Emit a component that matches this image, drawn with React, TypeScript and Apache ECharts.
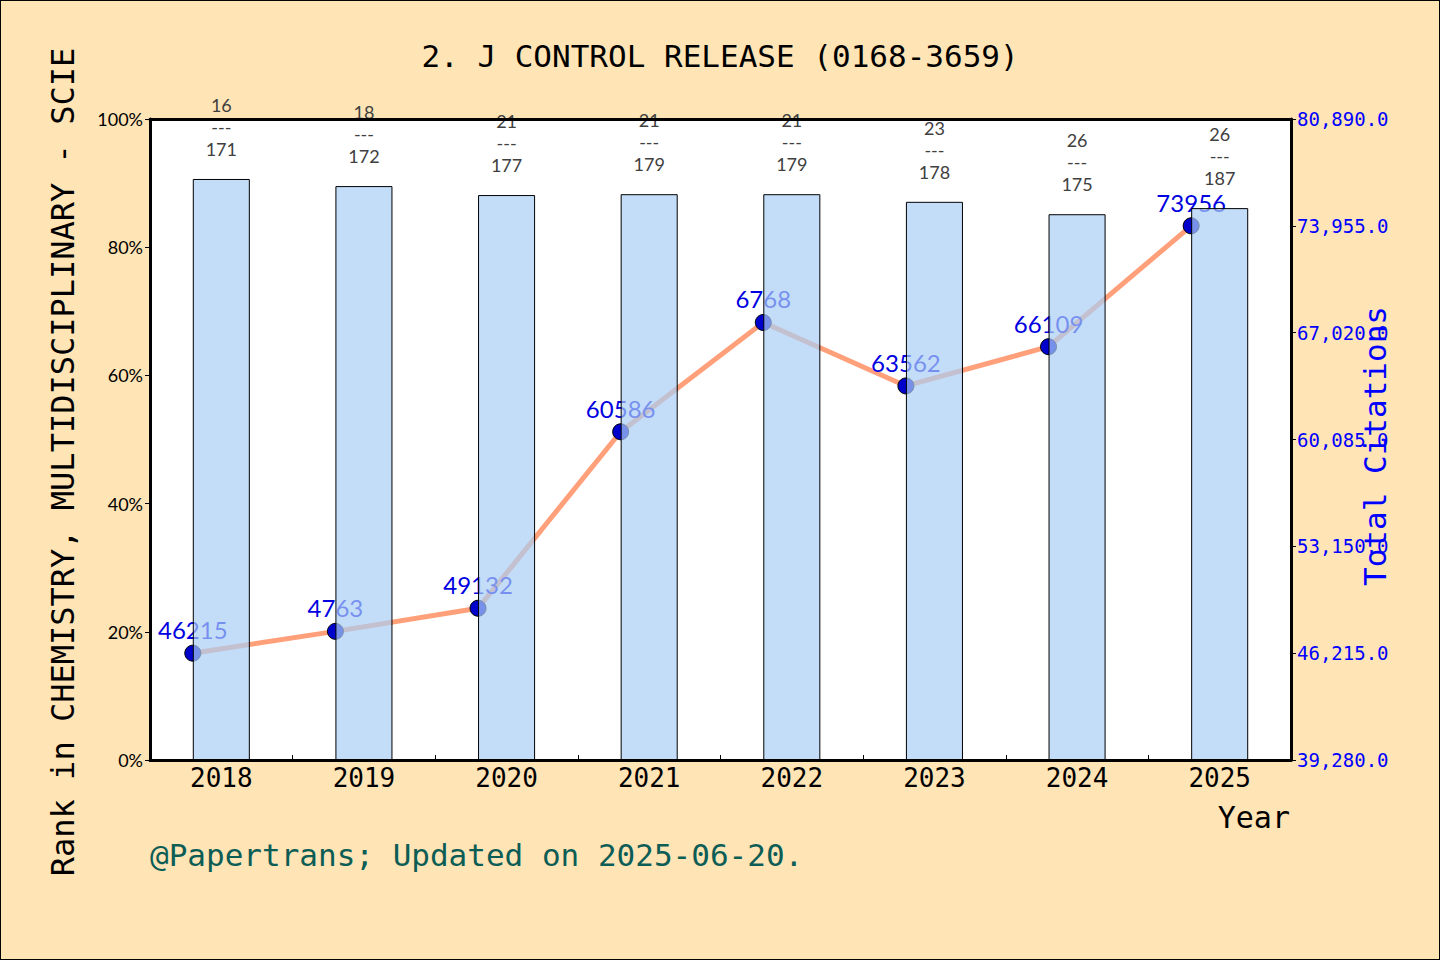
import React, { useEffect, useRef } from "react";
import * as echarts from "echarts";

const years = ["2018", "2019", "2020", "2021", "2022", "2023", "2024", "2025"];
const ranks = [16, 18, 21, 21, 21, 23, 26, 26];
const totals = [171, 172, 177, 179, 179, 178, 175, 187];
const citations = [46215, 47630, 49132, 60586, 67680, 63562, 66109, 73956];
const citationLabels = ["46215", "4763", "49132", "60586", "6768", "63562", "66109", "73956"];

const rankAxisMin = 0;
const rankAxisMax = 100;
const rankAxisInterval = 20;
const citeAxisMin = 39280;
const citeAxisMax = 80890;
const citeAxisInterval = 6935;

const titleText = "2. J CONTROL RELEASE (0168-3659)";
const leftName = "Rank in CHEMISTRY, MULTIDISCIPLINARY - SCIE";
const rightName = "Total Citations";
const xName = "Year";
const footer = "@Papertrans; Updated on 2025-06-20.";

const MONO = "'DejaVu Sans Mono', 'Liberation Mono', monospace";
const SANS = "Lato, 'Noto Sans', sans-serif";

export default function App() {
  const ref = useRef<HTMLDivElement>(null);

  useEffect(() => {
    document.body.style.margin = "0";
    const chart = echarts.init(ref.current!, undefined, { renderer: "svg" });
    const percentile = ranks.map((r, i) => (1 - r / totals[i]) * 100);

    const gridLeft = 150;
    const gridRight = 149;
    const gridTop = 119;
    const gridBottom = 200;
    const catW = (1440 - gridLeft - gridRight) / years.length;
    const shift = catW * 0.2;

    chart.setOption({
      animation: false,
      backgroundColor: "#FFE4B5",
      title: {
        text: titleText,
        left: "center",
        top: 35,
        textStyle: { fontFamily: MONO, fontSize: 31, fontWeight: "normal", color: "#000" },
      },
      grid: [
        {
          left: gridLeft,
          right: gridRight,
          top: gridTop,
          bottom: gridBottom,
          show: true,
          backgroundColor: "#fff",
          borderWidth: 0,
        },
        {
          left: gridLeft - shift,
          right: gridRight + shift,
          top: gridTop,
          bottom: gridBottom,
          show: false,
        },
      ],
      xAxis: [
        {
          type: "category",
          gridIndex: 0,
          data: years,
          z: 10,
          axisLine: { show: true, lineStyle: { color: "#000", width: 3 } },
          axisTick: { show: true, inside: true, length: 5, lineStyle: { color: "#000", width: 1 } },
          axisLabel: { color: "#000", fontFamily: MONO, fontSize: 26, margin: 5 },
        },
        {
          type: "category",
          gridIndex: 1,
          data: years,
          show: false,
        },
        {
          type: "category",
          gridIndex: 0,
          position: "top",
          data: years,
          z: 10,
          axisLine: { show: true, lineStyle: { color: "#000", width: 3 } },
          axisTick: { show: false },
          axisLabel: { show: false },
        },
      ],
      yAxis: [
        {
          type: "value",
          gridIndex: 0,
          min: rankAxisMin,
          max: rankAxisMax,
          interval: rankAxisInterval,
          z: 10,
          splitLine: { show: false },
          axisLine: { show: true, lineStyle: { color: "#000", width: 3 } },
          axisTick: { show: true, length: 5, lineStyle: { color: "#000", width: 1 } },
          axisLabel: { formatter: "{value}%", color: "#000", fontFamily: SANS, fontSize: 18, margin: 7 },
        },
        {
          type: "value",
          gridIndex: 1,
          position: "right",
          offset: shift,
          min: citeAxisMin,
          max: citeAxisMax,
          interval: citeAxisInterval,
          z: 10,
          splitLine: { show: false },
          axisLine: { show: true, lineStyle: { color: "#000", width: 3 } },
          axisTick: { show: true, length: 5, lineStyle: { color: "#000", width: 1 } },
          axisLabel: {
            color: "#0000FF",
            fontFamily: MONO,
            fontSize: 19,
            margin: 6,
            formatter: (v: number) =>
              v.toLocaleString("en-US", { minimumFractionDigits: 1, maximumFractionDigits: 1 }),
          },
        },
      ],
      series: [
        {
          type: "line",
          xAxisIndex: 1,
          yAxisIndex: 1,
          z: 1,
          data: citations,
          lineStyle: { color: "#FFA07A", width: 5 },
          symbol: "circle",
          symbolSize: 16,
          itemStyle: { color: "#0000CD", borderColor: "#000", borderWidth: 1 },
          label: {
            show: true,
            position: "top",
            distance: 3,
            color: "#0000E0",
            fontFamily: SANS,
            fontSize: 24,
            formatter: (p: any) => citationLabels[p.dataIndex],
          },
        },
        {
          type: "bar",
          xAxisIndex: 0,
          yAxisIndex: 0,
          z: 3,
          barWidth: "40%",
          data: percentile,
          itemStyle: { color: "rgba(170,205,245,0.7)", borderColor: "#000", borderWidth: 1 },
          label: {
            show: true,
            position: "top",
            distance: 19,
            color: "#404040",
            fontFamily: SANS,
            fontSize: 18,
            lineHeight: 22,
            formatter: (p: any) => `${ranks[p.dataIndex]}\n---\n${totals[p.dataIndex]}`,
          },
        },
      ],
      graphic: [
        {
          type: "text",
          x: 63,
          y: 462,
          rotation: Math.PI / 2,
          style: {
            text: leftName,
            fontFamily: MONO,
            fontSize: 32,
            fill: "#000",
            textAlign: "center",
            textVerticalAlign: "middle",
          },
        },
        {
          type: "text",
          x: 1375,
          y: 446,
          z: 20,
          rotation: Math.PI / 2,
          style: {
            text: rightName,
            fontFamily: MONO,
            fontSize: 31,
            fill: "#0000FF",
            textAlign: "center",
            textVerticalAlign: "middle",
          },
        },
        {
          type: "text",
          x: 1290,
          y: 817,
          style: {
            text: xName,
            fontFamily: MONO,
            fontSize: 30,
            fill: "#000",
            textAlign: "right",
            textVerticalAlign: "middle",
          },
        },
        {
          type: "text",
          x: 150,
          y: 855,
          style: {
            text: footer,
            fontFamily: MONO,
            fontSize: 31,
            fill: "#0b5d56",
            textAlign: "left",
            textVerticalAlign: "middle",
          },
        },
      ],
    });

    return () => chart.dispose();
  }, []);

  return (
    <div style={{ position: "absolute", left: 0, top: 0, width: 1440, height: 960 }}>
      <div ref={ref} style={{ width: 1440, height: 960 }} />
      <div
        style={{
          position: "absolute",
          left: 0,
          top: 0,
          width: 1440,
          height: 960,
          boxSizing: "border-box",
          border: "1px solid #000",
          pointerEvents: "none",
        }}
      />
    </div>
  );
}
